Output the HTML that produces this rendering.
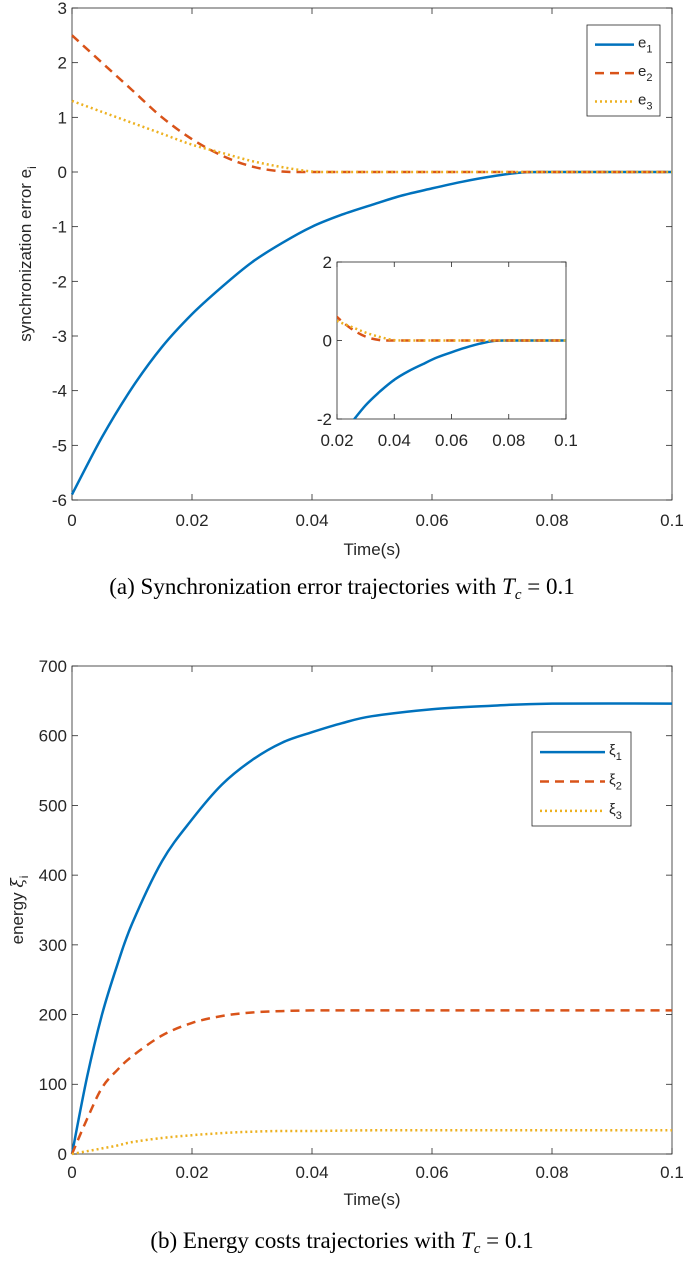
<!DOCTYPE html>
<html><head><meta charset="utf-8"><style>
body{margin:0;background:#fff;width:685px;height:1259px;overflow:hidden}
svg text{font-family:"Liberation Sans",sans-serif;fill:#262626}
.cap{font-family:"Liberation Serif",serif;fill:#000}
</style></head><body>
<svg id="s" width="685" height="1259">
<text class="cap" x="342" y="594" text-anchor="middle" font-size="23">(a)  Synchronization error trajectories with <tspan font-style="italic">T</tspan><tspan font-style="italic" font-size="15" dy="5">c</tspan><tspan dy="-5"> = 0.1</tspan></text>
<text class="cap" x="342" y="1248" text-anchor="middle" font-size="23">(b)  Energy costs trajectories with <tspan font-style="italic">T</tspan><tspan font-style="italic" font-size="15" dy="5">c</tspan><tspan dy="-5"> = 0.1</tspan></text>
</svg>
<script>
const tE=[0,0.005,0.01,0.015,0.02,0.025,0.03,0.035,0.04,0.045,0.05,0.055,0.06,0.065,0.07,0.075,0.08,0.09,0.1];
const e1=[-5.9,-4.85,-3.95,-3.2,-2.6,-2.1,-1.65,-1.3,-1.0,-0.78,-0.6,-0.43,-0.3,-0.18,-0.08,-0.01,0,0,0];
const e2=[2.5,2.0,1.5,1.0,0.6,0.3,0.1,0.01,0,0,0,0,0,0,0,0,0,0,0];
const e3=[1.3,1.1,0.9,0.7,0.5,0.35,0.2,0.09,0.01,0,0,0,0,0,0,0,0,0,0];
const tX=[0,0.0025,0.005,0.0075,0.01,0.015,0.02,0.025,0.03,0.035,0.04,0.045,0.05,0.06,0.07,0.08,0.1];
const x1=[0,110,200,270,330,420,480,530,565,590,605,618,628,638,643,646,646];
const x2=[0,50,95,120,140,170,188,198,203,205,206,206,206,206,206,206,206];
const x3=[0,4,8,12,17,23,27,30,32,33,33,33.5,34,34,34,34,34];
const xTicks=[0,0.02,0.04,0.06,0.08,0.1];
const eTicks=[3,2,1,0,-1,-2,-3,-4,-5,-6];
const enTicks=[0,100,200,300,400,500,600,700];
const inXTicks=[0.02,0.04,0.06,0.08,0.1];
const inYTicks=[2,0,-2];
const C=['#0072BD','#D95319','#EDB120'];
const DASH=['',"9,6","2,3"];
const NS='http://www.w3.org/2000/svg';
const S=document.getElementById('s');
function el(tag,a,p){const e=document.createElementNS(NS,tag);for(const k in a)e.setAttribute(k,a[k]);(p||S).appendChild(e);return e;}
function axes(L,R,T,B,x0,x1v,y0,y1v,xt,yt,fs,tickLen,name,lblY){
  const g=el('g',{});
  
  
  const sx=v=>L+(v-x0)/(x1v-x0)*(R-L), sy=v=>B-(v-y0)/(y1v-y0)*(B-T);
  el('rect',{x:L,y:T,width:R-L,height:B-T,fill:'#fff',stroke:'#262626','stroke-width':0.8},g);
  xt.forEach(v=>{const x=sx(v);
    el('line',{x1:x,x2:x,y1:B,y2:B-tickLen,stroke:'#262626','stroke-width':0.8},g);
    el('line',{x1:x,x2:x,y1:T,y2:T+tickLen,stroke:'#262626','stroke-width':0.8},g);
    const t=el('text',{x:x,y:lblY,'text-anchor':'middle','font-size':fs},g);t.textContent=String(v);
    
    });
  yt.forEach(v=>{const y=sy(v);
    el('line',{x1:L,x2:L+tickLen,y1:y,y2:y,stroke:'#262626','stroke-width':0.8},g);
    el('line',{x1:R,x2:R-tickLen,y1:y,y2:y,stroke:'#262626','stroke-width':0.8},g);
    const t=el('text',{x:L-5,y:y+fs*0.35,'text-anchor':'end','font-size':fs},g);t.textContent=String(v);
    
    });
  return {g,sx,sy};
}
function smooth(P){
  let d='M'+P[0][0].toFixed(1)+','+P[0][1].toFixed(1);
  for(let i=0;i<P.length-1;i++){
    const p0=P[Math.max(0,i-1)],p1=P[i],p2=P[i+1],p3=P[Math.min(P.length-1,i+2)];
    const c1=[p1[0]+(p2[0]-p0[0])/6,p1[1]+(p2[1]-p0[1])/6];
    const c2=[p2[0]-(p3[0]-p1[0])/6,p2[1]-(p3[1]-p1[1])/6];
    d+='C'+c1[0].toFixed(1)+','+c1[1].toFixed(1)+' '+c2[0].toFixed(1)+','+c2[1].toFixed(1)+' '+p2[0].toFixed(1)+','+p2[1].toFixed(1);
  }
  return d;
}
function series(ax,ts,vs,i,clip,name){
  const d=smooth(ts.map((t,k)=>[ax.sx(t),ax.sy(vs[k])]));
  const p=el('path',{d:d,fill:'none',stroke:C[i],'stroke-width':2.5,'stroke-dasharray':DASH[i]},ax.g);
  if(clip)p.setAttribute('clip-path','url(#'+clip+')');
  
  
}
function legend(x,y,w,h,labels,name){
  const g=el('g',{});
  
  
  el('rect',{x:x,y:y,width:w,height:h,fill:'#fff',stroke:'#262626','stroke-width':0.8},g);
  labels.forEach((l,i)=>{const yy=y+h*(i+0.55)/3.2+4;
    el('line',{x1:x+8,x2:x+w-26,y1:yy,y2:yy,stroke:C[i],'stroke-width':2.5,'stroke-dasharray':DASH[i]},g);
    const t=el('text',{x:x+w-22,y:yy+3,'font-size':15},g);
    t.innerHTML=l+'<tspan font-size="11" dy="5">'+(i+1)+'</tspan>';
    
    });
}
// chart a
const A=axes(72,672,8,500,0,0.1,-6,3,xTicks,eTicks,17,6,'error-chart',526);
[e1,e2,e3].forEach((s,i)=>series(A,tE,s,i,null,'e'+(i+1)+'-line'));
let t=el('text',{x:372,y:555,'text-anchor':'middle','font-size':17});t.textContent='Time(s)';

t=el('text',{x:0,y:0,'text-anchor':'middle','font-size':17,transform:'translate(31,254) rotate(-90)'});t.innerHTML='synchronization error e<tspan font-size="12" dy="5">i</tspan>';

legend(587,25,73,91,['e','e','e'],'legend-a');
// inset
const defs=el('defs',{});const cp=el('clipPath',{id:'ic'},defs);el('rect',{x:337,y:262,width:229,height:157},cp);
const I=axes(337,566,262,419,0.02,0.1,-2,2,inXTicks,inYTicks,17,5,'inset-chart',446);
[e1,e2,e3].forEach((s,i)=>series(I,tE,s,i,'ic','inset-e'+(i+1)+'-line'));
// chart b
const B=axes(72,672,666,1154,0,0.1,0,700,xTicks,enTicks,17,6,'energy-chart',1178);
[x1,x2,x3].forEach((s,i)=>series(B,tX,s,i,null,'xi'+(i+1)+'-line'));
t=el('text',{x:372,y:1205,'text-anchor':'middle','font-size':17});t.textContent='Time(s)';

t=el('text',{x:0,y:0,'text-anchor':'middle','font-size':17,transform:'translate(23,910) rotate(-90)'});t.innerHTML='energy <tspan font-style="italic" font-family="DejaVu Serif">ξ</tspan><tspan font-size="12" dy="5">i</tspan>';

legend(532,732,99,94,['ξ','ξ','ξ'],'legend-b');
</script>
</body></html>
